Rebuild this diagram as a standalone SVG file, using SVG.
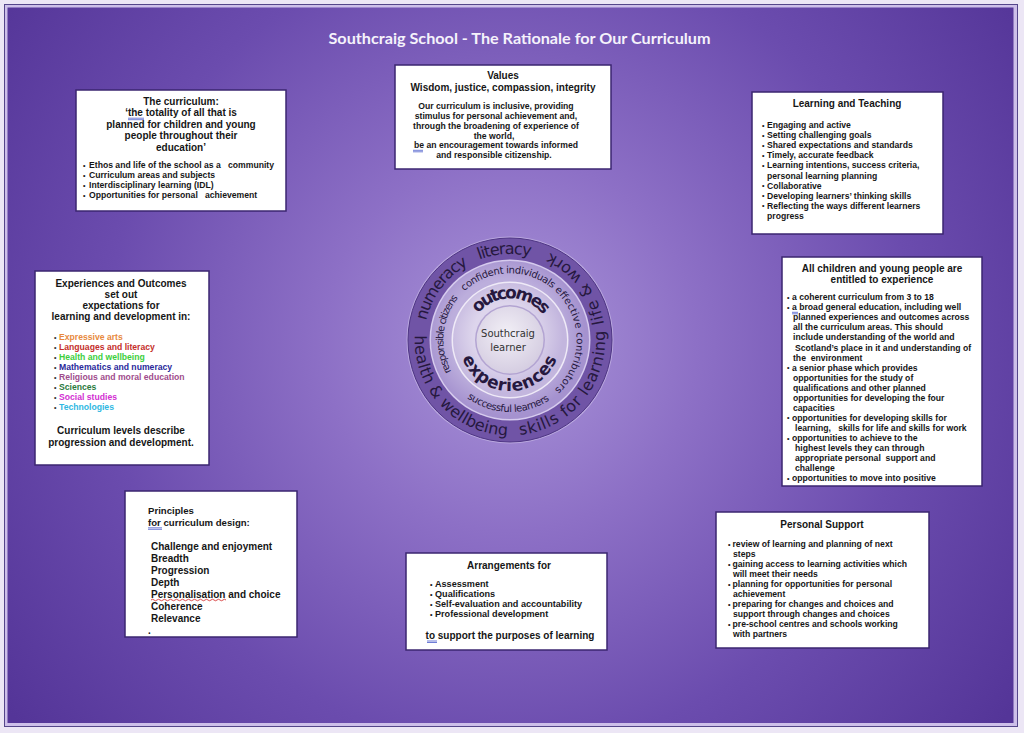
<svg xmlns="http://www.w3.org/2000/svg" xmlns:xlink="http://www.w3.org/1999/xlink" width="1024" height="733" viewBox="0 0 1024 733">
<defs>
  <radialGradient id="bg" gradientUnits="userSpaceOnUse" cx="510" cy="345" r="620">
    <stop offset="0" stop-color="#aa95d9"/>
    <stop offset="0.3" stop-color="#8d70c6"/>
    <stop offset="0.65" stop-color="#6b4cae"/>
    <stop offset="1" stop-color="#543598"/>
  </radialGradient>
  <radialGradient id="cg" cx="0.45" cy="0.4" r="0.65">
    <stop offset="0" stop-color="#f2eff6"/>
    <stop offset="1" stop-color="#d3cbe0"/>
  </radialGradient>
  <radialGradient id="r3g" gradientUnits="userSpaceOnUse" cx="505" cy="335" r="58">
    <stop offset="0.55" stop-color="#ddd5ec"/>
    <stop offset="1" stop-color="#c3b6de"/>
  </radialGradient>
  <radialGradient id="r2g" gradientUnits="userSpaceOnUse" cx="505" cy="335" r="80">
    <stop offset="0.7" stop-color="#bcaedc"/>
    <stop offset="1" stop-color="#a592cf"/>
  </radialGradient>
  <path id="p1t" d="M435.52,383 A86,86 0 1 1 584.48,297 A86,86 0 1 1 435.52,383"/>
  <path id="p1b" d="M420.73,307.51 A95,95 0 1 0 599.27,372.49 A95,95 0 1 0 420.73,307.51"/>
  <path id="p2t" d="M452.41,373.25 A66.5,66.5 0 1 1 567.59,306.75 A66.5,66.5 0 1 1 452.41,373.25"/>
  <path id="p2b" d="M442.34,315.37 A72,72 0 1 0 577.66,364.63 A72,72 0 1 0 442.34,315.37"/>
  <path id="p3t" d="M474.06,360.75 A41.5,41.5 0 1 1 545.94,319.25 A41.5,41.5 0 1 1 474.06,360.75"/>
  <path id="p3b" d="M462.55,322.73 A50.5,50.5 0 1 0 557.45,357.27 A50.5,50.5 0 1 0 462.55,322.73"/>
</defs>
<style>
  .box { fill:#ffffff; stroke:#3b2670; stroke-width:1.5; }
  .t { font-family:"Liberation Sans", Arial, sans-serif; font-weight:bold; fill:#161616; }
  .h { font-size:10px; text-anchor:middle; }
  .b { font-size:8.65px; }
  .c { text-anchor:middle; }
  .bul { font-size:7px; }
  .ring { font-family:"DejaVu Sans", sans-serif; fill:#26183e; text-anchor:middle; }
  .r1 { font-size:16px; }
  .r2 { font-size:10px; }
  .r3 { font-size:17px; font-weight:bold; }
  .sq { fill:none; stroke:#4a5ccc; stroke-width:0.8; }
  .sqr { fill:none; stroke:#d02020; stroke-width:0.8; }
</style>

<rect x="0" y="0" width="1024" height="733" fill="#ece6f5"/>
<rect x="4.5" y="4.5" width="1013" height="722" fill="#cdbfe9" stroke="#54458a" stroke-width="1"/>
<rect x="7.5" y="7.5" width="1006" height="715.5" fill="url(#bg)"/>

<g id="title">
  <text x="519.5" y="44" font-family="Lato, 'Open Sans', sans-serif" font-weight="bold" font-size="15" fill="#f5f2fb" text-anchor="middle" textLength="382" lengthAdjust="spacingAndGlyphs">Southcraig School - The Rationale for Our Curriculum</text>
</g>

<g id="connectors"></g>

<g id="node-values">
  <rect class="box" x="395" y="65" width="216" height="104"/>
  <text class="t h" x="503" y="78.5">Values</text>
  <text class="t h" x="503" y="90.5">Wisdom, justice, compassion, integrity</text>
  <text class="t b c" x="496" y="109">Our curriculum is inclusive, providing</text>
  <text class="t b c" x="496" y="119">stimulus for personal achievement and,</text>
  <text class="t b c" x="496" y="128.8">through the broadening of experience of</text>
  <text class="t b c" x="494" y="138.5">the world,</text>
  <text class="t b c" x="496" y="148.3">be an encouragement towards informed</text>
  <text class="t b c" x="494" y="158">and responsible citizenship.</text>
  <path class="sq" d="M413,150.3 H423 M413,151.8 H423"/>
</g>

<g id="node-curriculum">
  <rect class="box" x="76" y="90" width="210" height="121"/>
  <text class="t h" x="181" y="104.5">The curriculum:</text>
  <text class="t h" x="181" y="116">‘the totality of all that is</text>
  <text class="t h" x="181" y="127.5">planned for children and young</text>
  <text class="t h" x="181" y="139">people throughout their</text>
  <text class="t h" x="181" y="150.5">education’</text>
  <path class="sq" d="M128,118.2 H144 M128,119.7 H144"/>
  <g class="t b">
    <text class="bul" x="83" y="167.5">•</text><text x="89" y="168" xml:space="preserve">Ethos and life of the school as a   community</text>
    <text class="bul" x="83" y="177.5">•</text><text x="89" y="178">Curriculum areas and subjects</text>
    <text class="bul" x="83" y="187.5">•</text><text x="89" y="188">Interdisciplinary learning (IDL)</text>
    <text class="bul" x="83" y="197.5">•</text><text x="89" y="198" xml:space="preserve">Opportunities for personal   achievement</text>
  </g>
</g>

<g id="node-learning-teaching">
  <rect class="box" x="752" y="92" width="191" height="142"/>
  <text class="t h" x="847" y="106.5">Learning and Teaching</text>
  <g class="t b">
    <text class="bul" x="762" y="127.5">•</text><text x="767" y="128">Engaging and active</text>
    <text class="bul" x="762" y="137.6">•</text><text x="767" y="138.1">Setting challenging goals</text>
    <text class="bul" x="762" y="147.7">•</text><text x="767" y="148.2">Shared expectations and standards</text>
    <text class="bul" x="762" y="157.8">•</text><text x="767" y="158.3">Timely, accurate feedback</text>
    <text class="bul" x="762" y="167.9">•</text><text x="767" y="168.4">Learning intentions, success criteria,</text>
    <text x="767" y="178.5">personal learning planning</text>
    <text class="bul" x="762" y="188.1">•</text><text x="767" y="188.6">Collaborative</text>
    <text class="bul" x="762" y="198.2">•</text><text x="767" y="198.7">Developing learners’ thinking skills</text>
    <text class="bul" x="762" y="208.3">•</text><text x="767" y="208.8">Reflecting the ways different learners</text>
    <text x="767" y="218.9">progress</text>
  </g>
</g>

<g id="node-experiences-outcomes">
  <rect class="box" x="35" y="271" width="174" height="194"/>
  <text class="t h" x="121" y="286.5" font-size="10.2">Experiences and Outcomes</text>
  <text class="t h" x="121" y="297.5" font-size="10.2">set out</text>
  <text class="t h" x="121" y="308.5" font-size="10.2">expectations for</text>
  <text class="t h" x="121" y="319.5" font-size="10.2">learning and development in:</text>
  <g class="t b">
    <text class="bul" x="54" y="339.5" fill="#333">•</text><text x="59" y="340" fill="#e8893c">Expressive arts</text>
    <text class="bul" x="54" y="349.5" fill="#333">•</text><text x="59" y="350" fill="#c42e2a">Languages and literacy</text>
    <text class="bul" x="54" y="359.5" fill="#333">•</text><text x="59" y="360" fill="#3ccf3c">Health and wellbeing</text>
    <text class="bul" x="54" y="369.5" fill="#333">•</text><text x="59" y="370" fill="#28289a">Mathematics and numeracy</text>
    <text class="bul" x="54" y="379.5" fill="#333">•</text><text x="59" y="380" fill="#a04c8c">Religious and moral education</text>
    <text class="bul" x="54" y="389.5" fill="#333">•</text><text x="59" y="390" fill="#2a7a3c">Sciences</text>
    <text class="bul" x="54" y="399.5" fill="#333">•</text><text x="59" y="400" fill="#d22ed2">Social studies</text>
    <text class="bul" x="54" y="409.5" fill="#333">•</text><text x="59" y="410" fill="#30b8e2">Technologies</text>
  </g>
  <text class="t h" x="121" y="433.5" font-size="10.2">Curriculum levels describe</text>
  <text class="t h" x="121" y="445.5" font-size="10.2">progression and development.</text>
</g>

<g id="node-entitlements">
  <rect class="box" x="782" y="257" width="200" height="229"/>
  <text class="t h" x="882" y="271.5">All children and young people are</text>
  <text class="t h" x="882" y="283">entitled to experience</text>
  <g class="t b">
    <text class="bul" x="787" y="299.7">•</text><text x="792" y="300.2">a coherent curriculum from 3 to 18</text>
    <text class="bul" x="787" y="309.8">•</text><text x="792" y="310.3">a broad general education, including well</text>
    <text x="793" y="320.3">planned experiences and outcomes across</text>
    <text x="793" y="330.4">all the curriculum areas. This should</text>
    <text x="793" y="340.4">include understanding of the world and</text>
    <text x="795" y="350.5">Scotland’s place in it and understanding of</text>
    <text x="793" y="360.6" xml:space="preserve">the  environment</text>
    <text class="bul" x="787" y="370.1">•</text><text x="792" y="370.6">a senior phase which provides</text>
    <text x="793" y="380.7">opportunities for the study of</text>
    <text x="793" y="390.7">qualifications and other planned</text>
    <text x="793" y="400.8">opportunities for developing the four</text>
    <text x="793" y="410.8">capacities</text>
    <text class="bul" x="787" y="420.4">•</text><text x="792" y="420.9">opportunities for developing skills for</text>
    <text x="795" y="431" xml:space="preserve">learning,   skills for life and skills for work</text>
    <text class="bul" x="787" y="440.5">•</text><text x="792" y="441">opportunities to achieve to the</text>
    <text x="795" y="451.1">highest levels they can through</text>
    <text x="795" y="461.1" xml:space="preserve">appropriate personal  support and</text>
    <text x="795" y="471.2">challenge</text>
    <text class="bul" x="787" y="480.7">•</text><text x="792" y="481.2">opportunities to move into positive</text>
  </g>
  <path class="sq" d="M792,312.3 H798 M792,313.8 H798"/>
</g>

<g id="node-principles">
  <rect class="box" x="125" y="491" width="172" height="146"/>
  <text class="t" x="148" y="513.5" font-size="9.6">Principles</text>
  <text class="t" x="148" y="525.5" font-size="9.6">for curriculum design:</text>
  <path class="sq" d="M148,527.8 H162 M148,529.3 H162"/>
  <g class="t" font-size="10">
    <text x="151" y="549.5">Challenge and enjoyment</text>
    <text x="151" y="561.5">Breadth</text>
    <text x="151" y="573.5">Progression</text>
    <text x="151" y="585.5">Depth</text>
    <text x="151" y="597.5">Personalisation and choice</text>
    <text x="151" y="609.5">Coherence</text>
    <text x="151" y="621.5">Relevance</text>
    <text x="148" y="634">.</text>
  </g>
  <path class="sqr" d="M151,600 q1.5,-1.5 3,0 t3,0 t3,0 t3,0 t3,0 t3,0 t3,0 t3,0 t3,0 t3,0 t3,0 t3,0 t3,0 t3,0 t3,0 t3,0 t3,0 t3,0 t3,0 t3,0 t3,0 t3,0 t3,0 t3,0 t3,0"/>
</g>

<g id="node-arrangements">
  <rect class="box" x="406" y="553" width="201" height="97"/>
  <text class="t h" x="509" y="568.5">Arrangements for</text>
  <g class="t" font-size="9.1">
    <text class="bul" x="430" y="586.5">•</text><text x="435" y="587">Assessment</text>
    <text class="bul" x="430" y="596.5">•</text><text x="435" y="597">Qualifications</text>
    <text class="bul" x="430" y="606.5">•</text><text x="435" y="607">Self-evaluation and accountability</text>
    <text class="bul" x="430" y="616.5">•</text><text x="435" y="617">Professional development</text>
  </g>
  <text class="t h" x="510" y="638.5">to support the purposes of learning</text>
  <path class="sq" d="M427,641 H437 M427,642.5 H437"/>
</g>

<g id="node-personal-support">
  <rect class="box" x="716" y="512" width="213" height="136"/>
  <text class="t h" x="822" y="527.5">Personal Support</text>
  <g class="t b">
    <text class="bul" x="728" y="546.8">•</text><text x="732.5" y="547.3">review of learning and planning of next</text>
    <text x="733" y="557.3">steps</text>
    <text class="bul" x="728" y="566.8">•</text><text x="732.5" y="567.3">gaining access to learning activities which</text>
    <text x="733" y="577.3">will meet their needs</text>
    <text class="bul" x="728" y="586.8">•</text><text x="732.5" y="587.3">planning for opportunities for personal</text>
    <text x="733" y="597.3">achievement</text>
    <text class="bul" x="728" y="606.8">•</text><text x="732.5" y="607.3">preparing for changes and choices and</text>
    <text x="733" y="617.3">support through changes and choices</text>
    <text class="bul" x="728" y="626.8">•</text><text x="732.5" y="627.3">pre-school centres and schools working</text>
    <text x="733" y="637.3">with partners</text>
  </g>
</g>

<g id="node-learner-wheel">
  <circle cx="510" cy="340" r="103.5" fill="#c6b6e6" opacity="0.7"/>
  <circle cx="510" cy="340" r="102" fill="#7054a6" stroke="#4e3584" stroke-width="1"/>
  <circle cx="510" cy="340" r="80.5" fill="#d6cbee"/>
  <circle cx="510" cy="340" r="79" fill="url(#r2g)"/>
  <circle cx="510" cy="340" r="58.5" fill="#efeaf7"/>
  <circle cx="510" cy="340" r="57" fill="url(#r3g)"/>
  <circle cx="510" cy="340" r="35" fill="#b3a4d2"/>
  <circle cx="510" cy="340" r="33.5" fill="url(#cg)"/>
  <text class="ring r1"><textPath xlink:href="#p1t" startOffset="100.3" textLength="72">numeracy</textPath></text>
  <text class="ring r1"><textPath xlink:href="#p1t" startOffset="174.6" textLength="52">literacy</textPath></text>
  <text class="ring r1"><textPath xlink:href="#p1b" startOffset="104.5" textLength="152">health &amp; wellbeing</textPath></text>
  <text class="ring r1"><textPath xlink:href="#p1b" startOffset="316.7" textLength="248">skills for learning life &amp; work</textPath></text>
  <text class="ring r2"><textPath xlink:href="#p2t" startOffset="41.2" textLength="78">responsible citizens</textPath></text>
  <text class="ring r2"><textPath xlink:href="#p2t" startOffset="137.3" textLength="96">confident individuals</textPath></text>
  <text class="ring r2"><textPath xlink:href="#p2t" startOffset="243.9" textLength="112">effective contributors</textPath></text>
  <text class="ring r2"><textPath xlink:href="#p2b" startOffset="136.1" textLength="88">successful learners</textPath></text>
  <text class="ring r3"><textPath xlink:href="#p3t" startOffset="87.8" textLength="75">outcomes</textPath></text>
  <text class="ring r3"><textPath xlink:href="#p3b" startOffset="97.1" textLength="122">experiences</textPath></text>
  <text x="508" y="337" font-family="'DejaVu Sans', sans-serif" font-size="10" fill="#333" text-anchor="middle">Southcraig</text>
  <text x="508" y="351" font-family="'DejaVu Sans', sans-serif" font-size="10" fill="#333" text-anchor="middle">learner</text>
</g>
</svg>
